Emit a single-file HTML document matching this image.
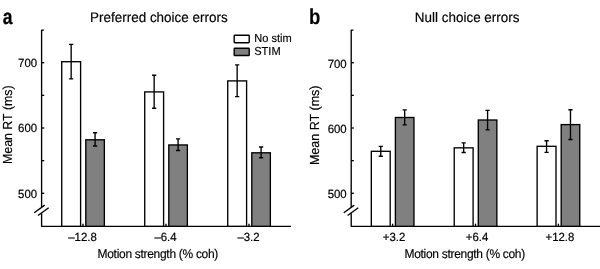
<!DOCTYPE html>
<html><head><meta charset="utf-8"><title>Figure</title>
<style>
html,body{margin:0;padding:0;background:#fff}
svg{display:block}
text{text-rendering:geometricPrecision;font-family:"Liberation Sans",sans-serif;fill:#000}
</style></head>
<body>
<svg width="600" height="269" viewBox="0 0 600 269">
<rect width="600" height="269" fill="#fff"/>
<g stroke="#000" stroke-width="0.16">
<path d="M43.9 30.15H41.6V206.9M41.6 213.3V226.3H290.9" fill="none" stroke="#000" stroke-width="1.35" stroke-linejoin="round"/>
<path d="M34.2 212.7L44.7 205.1M38.0 215.5L48.7 207.7" fill="none" stroke="#000" stroke-width="1.35"/>
<path d="M41.6 62.70h2.6" stroke="#000" stroke-width="1.35"/>
<path d="M41.6 95.35h2.6" stroke="#000" stroke-width="1.35"/>
<path d="M41.6 128.00h2.6" stroke="#000" stroke-width="1.35"/>
<path d="M41.6 160.65h2.6" stroke="#000" stroke-width="1.35"/>
<path d="M41.6 193.30h2.6" stroke="#000" stroke-width="1.35"/>
<text transform="translate(37.1,67.10) scale(0.957,1)" text-anchor="end" font-size="11.9" stroke="#000" stroke-width="0.2">700</text>
<text transform="translate(37.1,132.40) scale(0.957,1)" text-anchor="end" font-size="11.9" stroke="#000" stroke-width="0.2">600</text>
<text transform="translate(37.1,197.70) scale(0.957,1)" text-anchor="end" font-size="11.9" stroke="#000" stroke-width="0.2">500</text>
<rect x="61.73" y="61.70" width="18.87" height="164.60" fill="#fff" stroke="#000" stroke-width="1.35"/>
<path d="M71.16 43.80V79.30M69.06 44.30h4.2M69.06 78.80h4.2" fill="none" stroke="#000" stroke-width="1.35"/>
<rect x="85.80" y="139.80" width="18.56" height="86.50" fill="#808080" stroke="#000" stroke-width="1.35"/>
<path d="M95.08 132.20V146.50M92.98 132.70h4.2M92.98 146.00h4.2" fill="none" stroke="#000" stroke-width="1.35"/>
<rect x="144.73" y="91.90" width="18.87" height="134.40" fill="#fff" stroke="#000" stroke-width="1.35"/>
<path d="M154.16 74.70V108.70M152.06 75.20h4.2M152.06 108.20h4.2" fill="none" stroke="#000" stroke-width="1.35"/>
<rect x="168.80" y="144.95" width="18.56" height="81.35" fill="#808080" stroke="#000" stroke-width="1.35"/>
<path d="M178.08 138.30V151.00M175.98 138.80h4.2M175.98 150.50h4.2" fill="none" stroke="#000" stroke-width="1.35"/>
<rect x="227.73" y="80.90" width="18.87" height="145.40" fill="#fff" stroke="#000" stroke-width="1.35"/>
<path d="M237.16 64.30V97.10M235.06 64.80h4.2M235.06 96.60h4.2" fill="none" stroke="#000" stroke-width="1.35"/>
<rect x="251.80" y="152.80" width="18.56" height="73.50" fill="#808080" stroke="#000" stroke-width="1.35"/>
<path d="M261.08 146.50V158.20M258.98 147.00h4.2M258.98 157.70h4.2" fill="none" stroke="#000" stroke-width="1.35"/>
<path d="M83.00 226.3v-2.6" stroke="#000" stroke-width="1.35"/>
<text transform="translate(82.50,241.0) scale(0.957,1)" text-anchor="middle" font-size="11.9" stroke="#000" stroke-width="0.2">–12.8</text>
<path d="M166.00 226.3v-2.6" stroke="#000" stroke-width="1.35"/>
<text transform="translate(165.50,241.0) scale(0.957,1)" text-anchor="middle" font-size="11.9" stroke="#000" stroke-width="0.2">–6.4</text>
<path d="M249.00 226.3v-2.6" stroke="#000" stroke-width="1.35"/>
<text transform="translate(248.50,241.0) scale(0.957,1)" text-anchor="middle" font-size="11.9" stroke="#000" stroke-width="0.2">–3.2</text>
<text transform="translate(158.85,21.6) scale(0.972,1)" text-anchor="middle" font-size="13.85">Preferred choice errors</text>
<text transform="translate(157.80,257.6) scale(0.952,1)" text-anchor="middle" font-size="12.6" letter-spacing="-0.31">Motion strength (% coh)</text>
<text transform="translate(12.2,124.7) rotate(-90) scale(0.947,1)" text-anchor="middle" font-size="13.1">Mean RT (ms)</text>
<text transform="translate(2.75,24.15) rotate(0.03) scale(0.82,1)" font-size="21.3" font-weight="bold" stroke="#000" stroke-width="0.3">a</text>
<path d="M353.5 30.15H351.2V206.9M351.2 213.3V226.3H600.5" fill="none" stroke="#000" stroke-width="1.35" stroke-linejoin="round"/>
<path d="M343.8 212.7L354.3 205.1M347.6 215.5L358.3 207.7" fill="none" stroke="#000" stroke-width="1.35"/>
<path d="M351.2 62.70h2.6" stroke="#000" stroke-width="1.35"/>
<path d="M351.2 95.35h2.6" stroke="#000" stroke-width="1.35"/>
<path d="M351.2 128.00h2.6" stroke="#000" stroke-width="1.35"/>
<path d="M351.2 160.65h2.6" stroke="#000" stroke-width="1.35"/>
<path d="M351.2 193.30h2.6" stroke="#000" stroke-width="1.35"/>
<text transform="translate(346.7,67.60) scale(0.957,1)" text-anchor="end" font-size="11.9" stroke="#000" stroke-width="0.2">700</text>
<text transform="translate(346.7,132.90) scale(0.957,1)" text-anchor="end" font-size="11.9" stroke="#000" stroke-width="0.2">600</text>
<text transform="translate(346.7,198.20) scale(0.957,1)" text-anchor="end" font-size="11.9" stroke="#000" stroke-width="0.2">500</text>
<rect x="371.33" y="151.30" width="18.87" height="75.00" fill="#fff" stroke="#000" stroke-width="1.35"/>
<path d="M380.77 145.90V156.70M378.67 146.40h4.2M378.67 156.20h4.2" fill="none" stroke="#000" stroke-width="1.35"/>
<rect x="395.40" y="117.50" width="18.56" height="108.80" fill="#808080" stroke="#000" stroke-width="1.35"/>
<path d="M404.68 109.30V125.40M402.58 109.80h4.2M402.58 124.90h4.2" fill="none" stroke="#000" stroke-width="1.35"/>
<rect x="454.23" y="147.85" width="18.87" height="78.45" fill="#fff" stroke="#000" stroke-width="1.35"/>
<path d="M463.67 142.40V153.00M461.56 142.90h4.2M461.56 152.50h4.2" fill="none" stroke="#000" stroke-width="1.35"/>
<rect x="478.30" y="120.00" width="18.56" height="106.30" fill="#808080" stroke="#000" stroke-width="1.35"/>
<path d="M487.58 109.80V130.30M485.48 110.30h4.2M485.48 129.80h4.2" fill="none" stroke="#000" stroke-width="1.35"/>
<rect x="537.13" y="146.30" width="18.87" height="80.00" fill="#fff" stroke="#000" stroke-width="1.35"/>
<path d="M546.57 140.20V152.90M544.47 140.70h4.2M544.47 152.40h4.2" fill="none" stroke="#000" stroke-width="1.35"/>
<rect x="561.20" y="124.60" width="18.56" height="101.70" fill="#808080" stroke="#000" stroke-width="1.35"/>
<path d="M570.48 109.20V140.00M568.38 109.70h4.2M568.38 139.50h4.2" fill="none" stroke="#000" stroke-width="1.35"/>
<path d="M392.60 226.3v-2.6" stroke="#000" stroke-width="1.35"/>
<text transform="translate(394.10,241.0) scale(0.957,1)" text-anchor="middle" font-size="11.9" stroke="#000" stroke-width="0.2">+3.2</text>
<path d="M475.50 226.3v-2.6" stroke="#000" stroke-width="1.35"/>
<text transform="translate(477.00,241.0) scale(0.957,1)" text-anchor="middle" font-size="11.9" stroke="#000" stroke-width="0.2">+6.4</text>
<path d="M558.40 226.3v-2.6" stroke="#000" stroke-width="1.35"/>
<text transform="translate(559.90,241.0) scale(0.957,1)" text-anchor="middle" font-size="11.9" stroke="#000" stroke-width="0.2">+12.8</text>
<text transform="translate(467.15,21.6) scale(0.972,1)" text-anchor="middle" font-size="13.85">Null choice errors</text>
<text transform="translate(464.70,257.5) scale(0.952,1)" text-anchor="middle" font-size="12.6" letter-spacing="-0.31">Motion strength (% coh)</text>
<text transform="translate(319.1,125.3) rotate(-90) scale(0.957,1)" text-anchor="middle" font-size="13.1">Mean RT (ms)</text>
<text transform="translate(309.0,23.7) rotate(0.03) scale(0.86,1)" font-size="21.6" font-weight="bold" stroke="#000" stroke-width="0.1">b</text>
<rect x="234.2" y="35.25" width="15.0" height="7.45" rx="0.6" fill="#fff" stroke="#000" stroke-width="1.4"/>
<rect x="234.2" y="48.2" width="15.0" height="7.35" rx="0.6" fill="#808080" stroke="#000" stroke-width="1.4"/>
<text transform="translate(254.2,42.15) scale(0.955,1)" font-size="11.6">No stim</text>
<text transform="translate(254.2,54.85) scale(0.955,1)" font-size="11.6">STIM</text>
</g>
</svg>
</body></html>
